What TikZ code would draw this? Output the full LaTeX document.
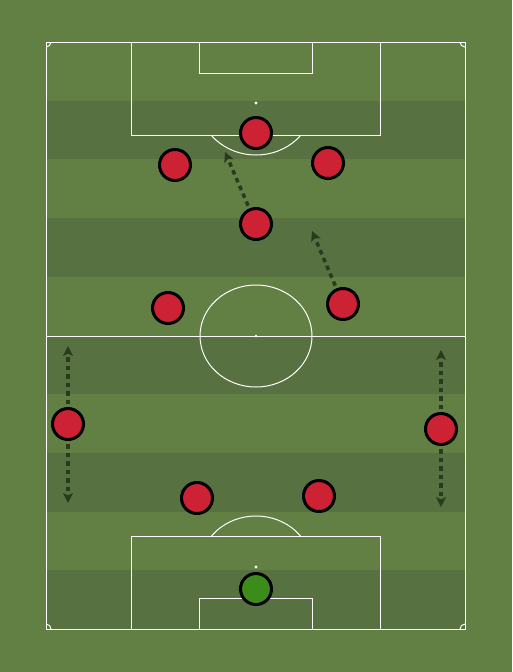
\documentclass[tikz,border=0pt]{standalone}
\usetikzlibrary{arrows.meta}
\definecolor{grassL}{RGB}{98,128,67}
\definecolor{grassD}{RGB}{88,113,64}
\definecolor{pred}{RGB}{204,34,51}
\definecolor{pgreen}{RGB}{60,140,26}
\definecolor{arr}{RGB}{42,58,32}
\tikzset{
  fline/.style={white, line width=1pt},
  player/.style={circle, draw=black, line width=3pt, minimum size=31pt, inner sep=0pt, fill=pred},
  keeper/.style={player, fill=pgreen},
  run/.style={arr, line width=3.5pt, dash pattern=on 4.5pt off 4pt, -{Stealth[length=10pt,width=10pt,inset=2.5pt]}, shorten <=3pt}
}
\begin{document}
\begin{tikzpicture}[x=1pt,y=-1pt]
\useasboundingbox (0,0) rectangle (512,672);
\fill[grassL] (0,0) rectangle (512,672);
% stripes
\foreach \i in {1,3,5,7,9}{
  \fill[grassD] (46,{42+\i*58.7}) rectangle (465,{42+(\i+1)*58.7});
}
% field lines
\draw[fline] (46,42) rectangle (465,629);
\draw[fline] (46,336) -- (465,336);
\draw[fline] (256,336) ellipse [x radius=56, y radius=51];
\fill[white] (256,336) circle (1.5);
% top box
\draw[fline] (131,42) rectangle (380,135);
\draw[fline] (199,42) rectangle (312,73);
\fill[white] (256,103) circle (1.6);
\begin{scope}
\clip (131,135) rectangle (380,200);
\draw[fline] (256,103) ellipse [x radius=57, y radius=52];
\end{scope}
% bottom box
\draw[fline] (131,536) rectangle (380,629);
\draw[fline] (199,598) rectangle (312,629);
\fill[white] (256,567) circle (1.6);
\begin{scope}
\clip (131,470) rectangle (380,536);
\draw[fline] (256,567) ellipse [x radius=56, y radius=51];
\end{scope}
% corner arcs
\begin{scope}
\clip (46,42) rectangle (465,629);
\foreach \cx/\cy in {46/42,465/42,46/629,465/629}{
  \draw[fline] (\cx,\cy) circle (5);
}
\end{scope}
% players
\node[keeper] (gk) at (256,589) {};
\node[player] (cbl) at (197,498) {};
\node[player] (cbr) at (319,496) {};
\node[player] (fbl) at (68,424) {};
\node[player] (fbr) at (441,429) {};
\node[player] (cml) at (168,308) {};
\node[player] (cmr) at (343,304) {};
\node[player] (am) at (256,224) {};
\node[player] (wl) at (175,165) {};
\node[player] (wr) at (328,163) {};
\node[player] (st) at (256,133) {};
% run targets
\coordinate (amT) at (225,152);
\coordinate (cmrT) at (312,231);
\coordinate (fblU) at (68,346);
\coordinate (fblD) at (68,503);
\coordinate (fbrU) at (441,350);
\coordinate (fbrD) at (441,507);
% runs
\draw[run] (am) -- (amT);
\draw[run] (cmr) -- (cmrT);
\draw[run] (fbl) -- (fblU);
\draw[run] (fbl) -- (fblD);
\draw[run] (fbr) -- (fbrU);
\draw[run] (fbr) -- (fbrD);
\end{tikzpicture}
\end{document}
